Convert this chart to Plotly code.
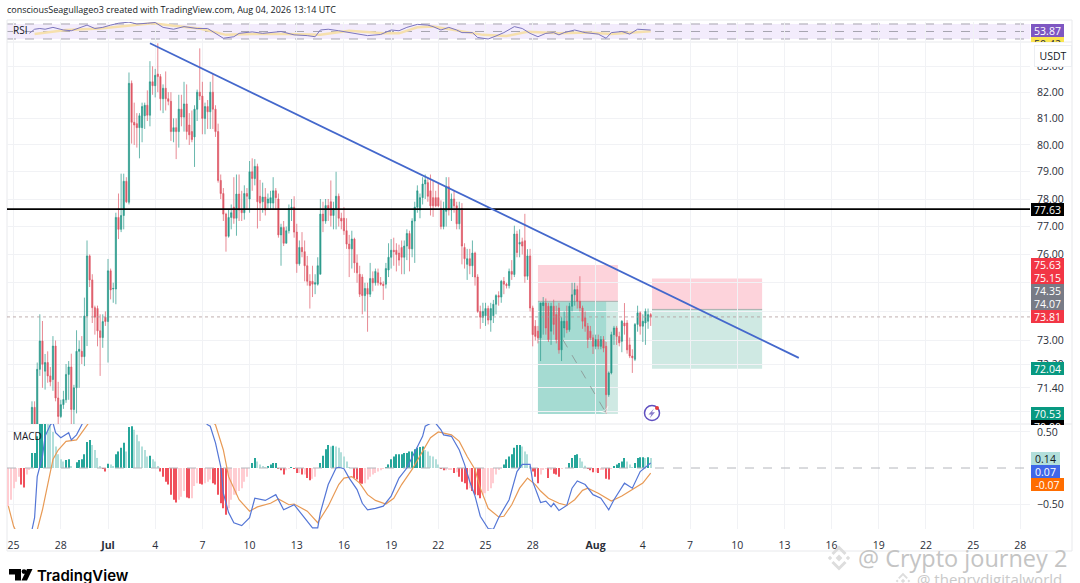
import pandas as pd
import plotly.graph_objects as go

W, H = 1080, 583

# ---------- price data (4h candles, first bar index = 1) ----------
opens = [70.18,70.75,70.2,72.02,72.98,71.96,72.25,71.8,71.68,72.81,
71.06,70.45,70.84,71.0,71.85,72.1,70.68,71.4,72.63,72.63,
72.45,73.84,75.95,75.1,74.13,74.1,73.33,73.1,73.8,73.65,
75.42,74.78,74.78,77.33,76.9,77.4,78.65,77.88,82.34,80.85,
80.8,80.65,80.65,81.1,81.5,81.12,82.4,82.25,82.7,82.6,
81.75,82.15,81.75,81.65,80.5,80.65,80.5,81.35,81.05,81.55,
80.75,80.5,80.3,81.35,82.0,81.85,81.0,81.45,81.25,82.0,
81.35,80.5,78.68,78.2,77.45,76.65,77.33,77.7,77.3,78.18,
77.6,77.5,78.2,78.0,79.0,78.75,79.2,78.1,77.9,78.07,
77.85,77.85,77.85,78.3,78.0,76.7,76.97,76.4,76.85,77.65,
77.7,76.8,75.67,76.25,76.1,75.6,75.05,75.05,74.95,74.95,
75.3,77.45,77.2,77.76,77.9,77.4,77.65,78.1,77.3,77.3,
76.85,76.37,76.2,76.55,75.7,75.3,75.2,74.55,74.8,74.6,
75.15,75.0,75.35,75.0,74.95,74.95,75.45,75.9,76.15,76.15,
76.05,76.25,75.9,76.3,76.75,76.2,77.2,77.7,77.6,78.05,
78.55,78.6,78.3,78.05,78.05,78.05,77.65,77.0,77.55,78.45,
77.6,78.0,77.75,77.1,77.65,76.25,75.65,75.85,75.6,76.05,
75.2,74.0,73.8,73.85,74.1,73.7,73.85,74.25,74.55,74.5,
75.05,74.95,74.9,75.4,75.29,76.73,76.37,76.45,76.49,75.23,
75.95,74.12,73.49,73.32,73.09,74.2,74.29,74.18,73.32,74.18,
73.89,74.12,72.68,73.43,73.66,73.37,74.18,74.58,74.76,74.35,
74.12,73.78,73.49,73.32,73.09,72.8,73.03,72.8,73.03,72.8,
71.17,71.9,73.2,73.43,73.14,72.97,73.6,73.6,72.85,72.47,
72.36,73.55,73.95,73.49,73.6,73.66,73.89]
highs = [70.95,70.95,72.25,73.9,73.67,72.54,72.63,72.1,73.15,73.0,
71.6,71.0,71.3,72.2,72.3,72.55,71.5,73.35,73.0,73.15,
74.48,76.5,76.0,75.3,74.2,74.2,73.9,73.9,74.0,75.84,
75.5,75.0,77.5,78.2,78.93,78.93,78.8,82.76,82.45,81.6,
81.2,81.2,81.6,81.6,82.07,83.2,83.0,82.9,83.9,82.7,
82.3,82.8,82.0,82.0,81.0,81.0,81.9,81.9,82.4,82.3,
81.2,81.3,81.5,82.1,83.7,82.4,81.6,81.7,82.4,82.7,
81.5,80.8,78.9,78.4,77.5,77.6,77.8,78.8,78.9,78.9,
78.3,78.5,78.4,79.4,79.5,79.47,79.3,78.7,78.6,78.4,
78.2,78.3,78.8,78.4,78.2,77.1,77.2,77.0,77.8,78.0,
78.1,77.1,76.5,76.8,76.5,75.95,75.3,75.6,75.3,75.9,
78.0,77.9,78.0,78.0,78.68,77.9,79.0,78.2,77.5,77.7,
77.3,76.7,76.85,76.6,76.0,75.6,75.3,75.0,75.0,75.7,
75.4,75.5,75.5,75.2,75.05,75.7,76.4,76.55,76.6,76.4,
76.35,76.5,76.5,76.9,76.85,77.3,77.9,78.5,78.2,78.8,
78.9,78.8,78.9,78.7,78.3,78.6,77.95,77.9,78.8,78.8,
78.2,78.3,77.9,77.9,77.85,76.4,76.2,76.2,76.5,76.1,
75.3,74.2,74.3,74.3,74.2,74.3,74.4,74.6,74.7,75.1,
75.2,75.0,75.5,75.8,77.03,76.85,76.9,76.6,77.46,76.19,
76.2,74.2,73.7,73.5,74.3,74.5,74.45,74.3,74.3,74.41,
74.2,74.3,73.8,74.0,74.2,74.3,75.0,75.0,74.9,75.23,
74.2,74.0,73.6,73.5,73.2,73.2,73.2,73.15,73.15,72.95,
71.95,73.3,73.5,73.5,73.3,73.7,74.29,73.7,73.1,72.7,
73.6,74.2,74.0,73.9,74.1,74.1,73.95]
lows = [70.1,70.1,70.1,71.8,71.4,71.34,71.57,71.45,71.3,70.95,
70.2,70.4,70.7,70.9,71.0,70.2,70.2,70.55,71.4,72.2,
72.13,72.81,74.85,73.6,73.2,72.8,71.8,72.75,73.5,72.25,
74.42,74.3,74.25,76.55,76.8,76.9,77.85,77.8,80.05,80.0,
79.9,79.5,80.1,80.6,80.9,80.7,81.9,81.8,82.0,81.3,
81.2,81.3,81.5,80.15,80.1,79.47,79.9,80.7,80.5,80.2,
80.0,80.1,79.18,80.9,81.7,80.4,80.4,80.6,80.6,80.6,
80.3,78.6,78.0,77.2,76.1,76.6,76.9,77.1,76.67,77.2,
77.2,77.25,77.6,77.5,78.3,78.5,76.93,77.2,77.5,77.4,
77.6,77.6,77.6,77.6,76.6,75.6,76.3,76.4,76.75,77.2,
76.6,75.35,75.6,75.9,75.05,74.9,74.1,74.5,74.6,74.9,
75.3,76.8,77.1,77.2,77.0,76.9,76.9,77.0,76.9,76.7,
76.2,75.2,75.5,75.35,75.0,74.5,73.9,74.0,73.3,74.5,
74.7,74.9,74.9,74.9,74.4,74.8,75.2,75.5,75.6,75.4,
75.6,75.3,75.3,75.8,75.4,75.9,75.7,77.5,77.3,77.8,
78.0,77.9,77.4,77.35,77.7,77.7,76.9,76.9,77.0,77.4,
77.2,77.5,76.9,76.9,75.65,75.5,75.1,75.3,75.2,74.9,
73.95,73.4,73.6,73.5,73.55,73.3,73.6,73.9,74.2,74.3,
74.6,74.8,74.8,75.1,75.2,75.9,75.9,76.0,75.0,75.1,
74.0,72.8,73.0,72.9,72.3,73.2,73.2,72.95,72.85,73.2,
72.9,72.55,72.3,73.1,73.25,73.3,74.0,74.2,74.1,74.0,
73.4,73.3,72.74,73.0,72.54,72.7,72.7,72.7,72.6,70.54,
71.1,71.85,72.85,72.85,72.8,72.6,73.2,72.55,72.4,71.9,
72.3,73.3,73.2,72.95,72.85,73.4,73.5]
closes = [70.75,70.18,72.02,72.98,72.19,72.25,71.8,71.6,72.81,71.06,
70.45,70.84,71.01,71.85,72.1,70.68,71.4,72.63,72.7,72.45,
73.84,75.95,75.1,74.13,73.8,73.33,73.1,73.65,73.65,75.42,
74.75,74.8,77.33,76.9,77.4,78.65,77.9,82.34,80.85,80.75,
80.65,81.1,81.45,81.5,81.12,82.4,82.25,82.65,82.6,81.75,
82.15,81.75,81.65,80.5,80.65,80.5,81.35,81.05,81.55,80.5,
80.38,80.2,81.35,82.0,81.85,81.0,81.45,81.25,82.0,81.35,
80.5,78.68,78.2,77.45,76.65,77.33,77.5,77.3,78.18,77.6,
77.5,78.2,78.1,79.0,78.75,79.2,77.9,77.85,78.07,77.6,
78.0,78.05,78.3,78.05,76.7,76.97,76.4,76.85,77.65,77.7,
76.8,75.67,76.25,76.1,75.6,75.05,74.9,74.95,75.0,75.6,
77.45,77.2,77.76,77.65,77.4,77.65,78.1,77.3,77.2,76.85,
76.37,76.2,76.55,75.7,75.35,74.6,74.55,74.8,74.6,75.15,
75.0,75.4,75.0,74.95,74.9,75.5,75.9,76.15,76.1,76.0,
75.8,75.9,76.3,76.75,76.2,77.2,77.7,78.3,78.05,78.55,
78.7,78.1,77.75,77.75,77.75,77.75,77.0,77.65,78.45,77.6,
78.0,77.75,77.1,77.65,76.3,75.85,75.85,75.6,76.05,75.2,
74.0,73.8,74.0,74.1,73.7,74.1,74.25,74.55,74.5,75.05,
74.95,74.9,75.4,75.3,76.73,76.07,76.43,76.3,75.23,75.95,
74.12,73.2,73.14,73.09,74.29,74.3,73.43,73.03,74.18,73.55,
73.03,72.68,73.66,73.66,73.37,74.18,74.58,74.76,74.35,74.12,
73.66,73.49,73.03,73.09,72.8,73.03,72.8,73.03,72.74,71.17,
71.9,73.2,73.43,73.14,72.92,73.66,73.5,72.68,72.47,72.41,
73.55,73.95,73.49,73.66,74.0,73.89,73.81]

# ---------- MACD histogram (first value is bar index -8) ----------
hist_vals = [-0.53,-0.44,-0.28,-0.19,-0.12,-0.23,-0.27,-0.09,-0.02,
0.21,0.21,0.44,0.61,0.7,0.7,0.65,0.6,0.5,0.3,
0.19,0.12,0.09,0.11,0.12,0.02,0.0,0.08,0.11,0.12,
0.19,0.36,0.39,0.32,0.25,0.14,0.02,-0.01,-0.05,0.06,
0.05,0.02,0.19,0.23,0.28,0.35,0.23,0.57,0.58,0.53,
0.46,0.37,0.3,0.25,0.16,0.17,0.12,0.09,0.02,-0.05,
-0.12,-0.19,-0.23,-0.37,-0.44,-0.48,-0.44,-0.4,-0.32,-0.41,
-0.42,-0.42,-0.25,-0.21,-0.22,-0.23,-0.21,-0.19,-0.16,-0.21,
-0.23,-0.37,-0.49,-0.56,-0.65,-0.56,-0.44,-0.37,-0.37,-0.32,
-0.28,-0.19,-0.12,0.0,0.07,0.14,0.09,0.05,0.02,0.01,
0.02,0.05,0.07,0.07,-0.01,-0.03,-0.09,-0.03,-0.01,0.01,
-0.01,-0.07,-0.07,-0.09,-0.09,-0.14,-0.17,-0.15,-0.12,0.0,
0.07,0.17,0.26,0.32,0.3,0.31,0.3,0.28,0.22,0.16,
0.09,0.01,0.0,-0.14,-0.16,-0.21,-0.22,-0.21,-0.16,-0.12,
-0.09,-0.07,-0.05,-0.03,-0.01,0.01,0.05,0.12,0.16,0.19,
0.19,0.19,0.21,0.21,0.23,0.23,0.26,0.28,0.29,0.3,
0.25,0.23,0.17,0.16,0.12,0.05,-0.01,-0.03,-0.03,-0.02,
-0.02,-0.07,-0.06,-0.12,-0.19,-0.21,-0.3,-0.28,-0.32,-0.37,
-0.38,-0.42,-0.37,-0.35,-0.32,-0.28,-0.21,-0.09,-0.02,0.0,
0.05,0.12,0.16,0.19,0.28,0.32,0.32,0.3,0.23,0.19,
0.02,-0.05,-0.12,-0.21,-0.09,-0.02,-0.01,-0.14,-0.02,-0.08,
-0.09,-0.12,-0.01,0.0,0.0,0.07,0.14,0.18,0.19,0.14,
0.09,0.03,-0.01,-0.03,-0.06,-0.06,-0.07,-0.02,-0.02,-0.15,
-0.16,-0.01,0.02,0.05,0.07,0.09,0.14,0.09,0.05,0.01,
0.07,0.14,0.15,0.15,0.14,0.15,0.14]

macd_bars = [-8,0,1,2,3,5,6,8,9,10,12,15,16,18,20,26,38,50,60,68,69,71,73,74,76,78,81,84,86,90,94,97,101,104,108,110,111,114,117,
118,120,122,125,127,129,132,135,138,141,144,147,150,151,153,155,157,158,161,164,166,168,170,172,175,177,179,183,186,188,191,192,195,197,199,200,202,205,207,209,212,215,218,221,223,227,230,233,237]
macd_vals = [-1.3,-1.0,-0.86,-0.69,-0.12,0.16,0.44,0.6,0.63,0.49,0.42,0.49,0.39,0.46,0.6,1.0,1.3,1.2,0.9,0.6,0.58,0.35,0.02,-0.35,-0.62,-0.76,-0.8,-0.69,-0.42,-0.45,-0.37,-0.58,-0.51,-0.65,-0.83,-0.83,-0.62,-0.23,0.0,
0.01,-0.01,-0.14,-0.3,-0.49,-0.58,-0.56,-0.53,-0.39,-0.14,0.0,0.23,0.44,0.58,0.62,0.62,0.53,0.46,0.44,0.25,0.05,-0.19,-0.39,-0.67,-0.84,-0.85,-0.69,-0.44,-0.05,0.05,0.05,-0.19,-0.48,-0.46,-0.54,-0.49,-0.59,-0.52,-0.28,-0.18,-0.23,-0.37,-0.42,-0.58,-0.44,-0.21,-0.28,-0.05,0.07]

signal_bars = [-8,-6,-2,3,5,7,9,11,14,18,20,22,30,45,60,71,74,76,80,84,87,92,95,99,101,106,110,114,118,120,123,126,129,132,136,139,142,146,150,153,156,161,164,167,170,172,175,179,181,184,187,190,193,195,198,202,205,208,211,213,217,222,226,230,234,237]
signal_vals = [-0.53,-0.81,-1.1,-0.86,-0.58,-0.21,0.12,0.25,0.37,0.39,0.49,0.6,1.0,1.2,1.0,0.6,0.25,-0.12,-0.44,-0.6,-0.54,-0.49,-0.43,-0.51,-0.5,-0.6,-0.76,-0.53,-0.23,-0.14,-0.12,-0.21,-0.37,-0.45,-0.5,-0.42,-0.23,-0.02,0.23,0.42,0.5,0.46,0.37,0.16,-0.02,-0.28,-0.56,-0.68,-0.67,-0.51,-0.28,-0.14,-0.23,-0.32,-0.42,-0.49,-0.52,-0.44,-0.31,-0.28,-0.35,-0.46,-0.39,-0.3,-0.21,-0.07]

# ---------- RSI ----------
rsi_bars = [0,2,4,6,9,13,16,20,22,25,28,31,34,38,41,45,48,51,55,59,64,68,71,74,78,80,85,89,96,101,106,109,111,114,118,124,129,134,138,141,144,148,152,154,157,160,163,165,169,171,175,178,181,185,188,191,194,197,200,202,204,208,212,217,220,222,226,229,232,237]
rsi_vals = [45,56,58,56,61,54,52,61,67,58,61,67,72,75,70,72,74,61,56,63,58,58,45,32,36,45,49,45,50,41,39,36,54,56,52,45,39,42,54,52,61,69,67,63,54,61,54,47,47,34,30,38,47,63,58,45,36,45,47,41,47,54,47,43,32,47,50,43,56,53.87]
rsima_bars = [2,14,27,40,47,55,65,75,85,98,111,122,135,141,148,154,163,173,182,190,202,213,222,237]
rsima_vals = [43,54,58,67,72,65,58,41,43,43,41,52,45,45,61,63,52,41,38,49,45,47,43,50.42]

# ---------- axis labels ----------
price_ticks = [83, 82, 81, 80, 79, 78, 77, 76, 75, 74, 73, 72.2, 71.4, 70.6]
macd_ticks = [0.5, -0.5]
date_ticks = ["2026-06-25","2026-06-28","2026-07-01","2026-07-04","2026-07-07","2026-07-10","2026-07-13","2026-07-16",
              "2026-07-19","2026-07-22","2026-07-25","2026-07-28","2026-08-01","2026-08-04","2026-08-07","2026-08-10",
              "2026-08-13","2026-08-16","2026-08-19","2026-08-22","2026-08-25","2026-08-28"]
date_labels = ["25","28","<b>Jul</b>","4","7","10","13","16","19","22","25","28","<b>Aug</b>","4","7","10","13","16","19","22","25","28"]

level_price = 77.63
last_price = 73.81
trend_dates = ["2026-07-03 16:00", "2026-08-13 22:00"]
trend_prices = [83.9, 72.41]
arrow_dates = ["2026-07-29 22:00", "2026-08-01 16:00"]
arrow_prices = [73.03, 70.56]

# long-position tools: start, full end, hit time, stop, entry, target
pos_a = ("2026-07-28 08:00", "2026-08-02 10:00", "2026-08-01 16:00", 75.63, 74.35, 70.53)
pos_b = ("2026-08-04 14:00", "2026-08-11 14:00", None, 75.15, 74.07, 72.04)

# ---------- helpers ----------
T0 = pd.Timestamp("2026-06-26 00:00")
STEP = pd.Timedelta(hours=4)
def bar_time(i):
    return T0 + i * STEP
def px_date(x):
    return pd.Timestamp("2026-07-01") + pd.Timedelta(days=(x - 108) / 15.73)
def X(x): return x / W
def Y(y): return 1 - y / H

X_RANGE = [px_date(7), px_date(1030)]
x_edges = [X_RANGE[0], X_RANGE[1]]

candle_times = [bar_time(i + 1) for i in range(len(opens))]
hist_times = [bar_time(i - 8) for i in range(len(hist_vals))]

INK = "#131722"
TICK_FONT = dict(family="Open Sans", size=10.5, color="#2a2e39")
GRID = "#f1f2f5"

fig = go.Figure()

# ---------- RSI pane ----------
fig.add_trace(go.Scatter(x=[bar_time(i) for i in rsima_bars], y=rsima_vals, mode="lines",
                         line=dict(color="#f6e0ae", width=2.5), xaxis="x", yaxis="y", hoverinfo="skip"))
fig.add_trace(go.Scatter(x=[bar_time(i) for i in rsi_bars], y=rsi_vals, mode="lines",
                         line=dict(color="#7b75bd", width=1), xaxis="x", yaxis="y", hoverinfo="skip"))

# ---------- price pane ----------
fig.add_trace(go.Candlestick(x=candle_times, open=opens, high=highs, low=lows, close=closes,
                             xaxis="x2", yaxis="y2", whiskerwidth=0,
                             increasing=dict(line=dict(color="#2a9a8b", width=0.7), fillcolor="#2a9a8b"),
                             decreasing=dict(line=dict(color="#de5865", width=0.7), fillcolor="#de5865"),
                             hoverinfo="skip"))
fig.add_trace(go.Scatter(x=x_edges, y=[last_price, last_price], mode="lines",
                         line=dict(color="#b09a9a", width=0.8, dash="dot"), xaxis="x2", yaxis="y2", hoverinfo="skip"))
fig.add_trace(go.Scatter(x=x_edges, y=[level_price, level_price], mode="lines",
                         line=dict(color="#000000", width=1.6), xaxis="x2", yaxis="y2", hoverinfo="skip"))
fig.add_trace(go.Scatter(x=trend_dates, y=trend_prices, mode="lines",
                         line=dict(color="#4468cc", width=1.8), xaxis="x2", yaxis="y2", hoverinfo="skip"))
fig.add_trace(go.Scatter(x=arrow_dates, y=arrow_prices, mode="lines+markers",
                         line=dict(color="#8fa09d", width=1, dash="dash"),
                         marker=dict(size=[0, 7], symbol="arrow-wide", angleref="previous", color="#8fa09d"),
                         xaxis="x2", yaxis="y2", hoverinfo="skip"))

# ---------- MACD pane ----------
def hist_color(i):
    v = hist_vals[i]
    prev = hist_vals[i - 1] if i else v
    if v >= 0:
        return "#26a69a" if v >= prev else "#b2dfdb"
    return "#f0505c" if v < prev else "#ffcdd2"
fig.add_trace(go.Bar(x=hist_times, y=hist_vals, width=5800000,
                     marker=dict(color=[hist_color(i) for i in range(len(hist_vals))], line_width=0),
                     xaxis="x3", yaxis="y3", hoverinfo="skip"))
fig.add_trace(go.Scatter(x=x_edges, y=[0, 0], mode="lines", line=dict(color="#b4b6bc", width=1, dash="dash"),
                         xaxis="x3", yaxis="y3", hoverinfo="skip"))
fig.add_trace(go.Scatter(x=[bar_time(i) for i in signal_bars], y=signal_vals, mode="lines",
                         line=dict(color="#e89a55", width=1.2), xaxis="x3", yaxis="y3", hoverinfo="skip"))
fig.add_trace(go.Scatter(x=[bar_time(i) for i in macd_bars], y=macd_vals, mode="lines",
                         line=dict(color="#5476d6", width=1.2), xaxis="x3", yaxis="y3", hoverinfo="skip"))

# ---------- shapes ----------
shapes = []
def rect(x0, x1, y0, y1, color):
    shapes.append(dict(type="rect", xref="x2", yref="y2", x0=x0, x1=x1, y0=y0, y1=y1,
                       fillcolor=color, line_width=0, layer="below"))
for start, end, hit, stop, entry, target in (pos_a, pos_b):
    rect(start, end, entry, stop, "#fdd3db")
    rect(start, end, target, entry, "#cfe9e3")
    if hit:
        rect(start, hit, target, entry, "#a5dbd2")
    shapes.append(dict(type="line", xref="x2", yref="y2", x0=start, x1=end, y0=entry, y1=entry,
                       line=dict(color="#a9b0ae", width=1), layer="below"))

# RSI band
shapes.append(dict(type="rect", xref="paper", yref="y", x0=X(7), x1=X(1030), y0=30, y1=70,
                   fillcolor="#f3ecfc", line_width=0, layer="below"))
for lvl in (70, 50, 30):
    shapes.append(dict(type="line", xref="paper", yref="y", x0=X(7), x1=X(1031), y0=lvl, y1=lvl,
                       line=dict(color="#a6a4b0", width=1, dash="dash"), layer="below"))

# frame and pane separators
FRAME = "#e8e9ec"
shapes.append(dict(type="rect", xref="paper", yref="paper", x0=X(7), x1=X(1072), y0=Y(551), y1=Y(20),
                   line=dict(color=FRAME, width=1), layer="below"))
for sep in (42, 424):
    shapes.append(dict(type="line", xref="paper", yref="paper", x0=X(7), x1=X(1072), y0=Y(sep), y1=Y(sep),
                       line=dict(color=FRAME, width=1), layer="below"))

def path(points, close=True):
    s = "M" + " L".join(f"{X(a):.5f},{Y(b):.5f}" for a, b in points)
    return s + (" Z" if close else "")
def fill_path(points, color):
    shapes.append(dict(type="path", xref="paper", yref="paper", path=path(points), fillcolor=color, line_width=0))

# TradingView logo
fill_path([(9,569),(21,569),(21,580.5),(15,580.5),(15,574.5),(9,574.5)], "#000000")
fill_path([(27,569),(32.5,569),(27,580.5),(21.5,580.5)], "#000000")
shapes.append(dict(type="circle", xref="paper", yref="paper", x0=X(21.6), x1=X(26.4), y0=Y(574), y1=Y(569.2),
                   fillcolor="#000000", line_width=0))

# watermark diamonds
def binance(cx, cy, s, color):
    for dx in (-1, 1):
        fill_path([(cx + dx*9*s - 2.2*s, cy), (cx + dx*9*s, cy - 2.2*s), (cx + dx*9*s + 2.2*s, cy), (cx + dx*9*s, cy + 2.2*s)], color)
    fill_path([(cx - 3.4*s, cy), (cx, cy - 3.4*s), (cx + 3.4*s, cy), (cx, cy + 3.4*s)], color)
    for sign in (-1, 1):
        shapes.append(dict(type="path", xref="paper", yref="paper",
                           path=path([(cx - 6.5*s, cy + sign*4*s), (cx, cy + sign*10.5*s), (cx + 6.5*s, cy + sign*4*s)], close=False),
                           line=dict(color=color, width=3*s)))
binance(839, 558, 1.0, "#dddddd")
binance(903, 581, 0.65, "#dddddd")

# lightning badge
shapes.append(dict(type="circle", xref="paper", yref="paper", x0=X(644.5), x1=X(659.5), y0=Y(420.5), y1=Y(405.5),
                   line=dict(color="#5f4fc0", width=1.5), fillcolor="#ffffff"))
fill_path([(654,408.5),(648.5,414.5),(651.5,414.5),(649.5,418.5),(655,412.3),(652,412.3)], "#8a7ccb")
shapes.append(dict(type="circle", xref="paper", yref="paper", x0=X(655), x1=X(659), y0=Y(410), y1=Y(406),
                   fillcolor="#e53d3d", line_width=0))

# ---------- annotations ----------
ann = []
def text(x, y, s, size, color=INK, family="Open Sans", anchor="left", weight=None):
    f = dict(family=family, size=size, color=color)
    if weight: f["weight"] = weight
    ann.append(dict(xref="paper", yref="paper", x=X(x), y=Y(y), text=s, showarrow=False, xanchor=anchor,
                    yanchor="middle", font=f, borderpad=0, borderwidth=0))
def badge(y, s, bg, fg="#ffffff", w=33, h=13, valign="middle"):
    ann.append(dict(xref="paper", yref="paper", x=X(1031), y=Y(y), text=s, showarrow=False, xanchor="left",
                    yanchor="middle", width=w, height=h, align="center", valign=valign, bgcolor=bg,
                    font=dict(family="Open Sans", size=10.5, color=fg), borderpad=0, borderwidth=0))

text(7, 9.5, "consciousSeagullageo3 created with TradingView.com, Aug 04, 2026 13:14 UTC", 9)
text(13, 30.5, "RSI", 10)
text(13, 436, "MACD", 10)
badge(30, "53.87", "#7e57c2")
badge(39.5, "50.42", "#fbe44e", "#2a2e39", h=5, valign="top")
ann.append(dict(xref="paper", yref="paper", x=X(1034), y=Y(56), text="USDT", showarrow=False, xanchor="left",
                yanchor="middle", width=36, height=20, align="center", bgcolor="#ffffff", bordercolor="#eceef2",
                borderwidth=1, borderpad=0, font=dict(family="Open Sans", size=10.5, color=INK)))
badge(209.5, "77.63", "#000000")
badge(264, "75.63", "#f23645")
badge(277, "75.15", "#f23645")
badge(290, "74.35", "#787b86")
badge(303, "74.07", "#787b86")
badge(316.5, "73.81", "#f23645")
badge(368, "72.04", "#089981")
badge(413, "70.53", "#089981")
badge(422, "70.00", "#000000", h=5, valign="top")
badge(458, "0.14", "#b2dfdb", "#131722", w=29)
badge(471, "0.07", "#3f67e8", w=29)
badge(484, "-0.07", "#ff6d00")

text(858, 558, "@ Crypto journey 2", 23.5, "#c4c4c4")
text(917, 579, "@ theprydigitalworld", 15, "#c9c9c9")
text(37, 575, "TradingView", 15, "#000000", family="Inter", weight=600)

# ---------- layout ----------
def xax(anchor, **kw):
    base = dict(domain=[X(7), X(1030)], range=X_RANGE, type="date", anchor=anchor, tickmode="array", tickvals=date_ticks,
                ticktext=date_labels, showgrid=True, gridcolor=GRID, gridwidth=1, zeroline=False, showline=False,
                rangeslider=dict(visible=False), showticklabels=False, ticks="", fixedrange=True)
    base.update(kw)
    return base

fig.update_layout(
    width=W, height=H, margin=dict(l=0, r=0, t=0, b=0), paper_bgcolor="#ffffff", plot_bgcolor="#ffffff",
    showlegend=False, barmode="overlay", boxgap=0.35, boxmode="overlay",
    xaxis=xax("y"),
    xaxis2=xax("y2"),
    xaxis3=xax("y3", showticklabels=True, ticks="outside", ticklen=6, tickcolor="rgba(0,0,0,0)",
               tickfont=TICK_FONT, tickangle=0),
    yaxis=dict(domain=[Y(41.5), Y(22)], range=[23.3, 75.3], anchor="x", showgrid=False, showticklabels=False,
               zeroline=False, fixedrange=True),
    yaxis2=dict(domain=[Y(424), Y(42)], type="log", range=[1.84634, 1.92402], anchor="x2", side="right",
                tickmode="array", tickvals=price_ticks, ticktext=[f"{v:.2f}" for v in price_ticks],
                tickfont=TICK_FONT, ticks="outside", ticklen=4, tickcolor="rgba(0,0,0,0)",
                showgrid=True, gridcolor=GRID, zeroline=False, showline=False, fixedrange=True),
    yaxis3=dict(domain=[Y(529), Y(424)], range=[-0.847, 0.611], anchor="x3", side="right",
                tickmode="array", tickvals=macd_ticks, ticktext=[f"{v:.2f}".replace("-", "\u2212") for v in macd_ticks],
                tickfont=TICK_FONT, ticks="outside", ticklen=4, tickcolor="rgba(0,0,0,0)",
                showgrid=True, gridcolor=GRID, zeroline=False, showline=False, fixedrange=True),
    shapes=shapes, annotations=ann,
)

fig.write_html("out.html", config=dict(displayModeBar=False),
               post_script="document.body.style.margin='0';document.body.style.overflow='hidden';")
